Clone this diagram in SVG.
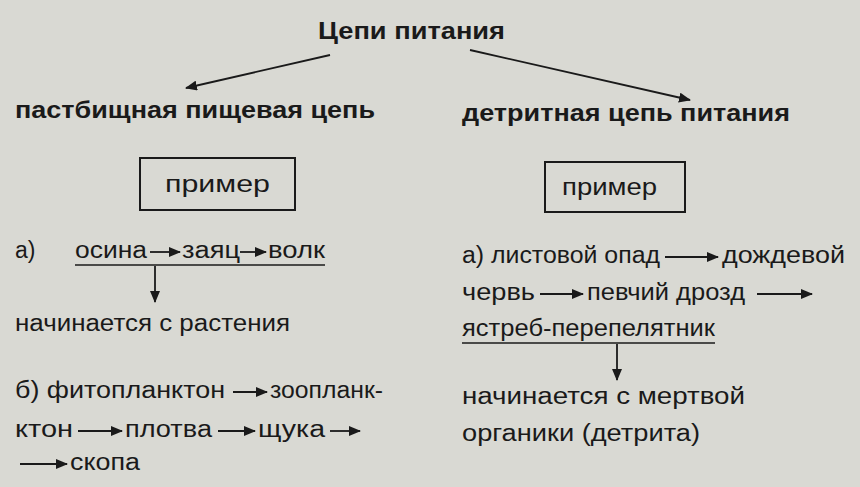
<svg xmlns="http://www.w3.org/2000/svg" width="860" height="487" viewBox="0 0 860 487">
<defs>
<marker id="ah" markerWidth="12" markerHeight="10" refX="11" refY="5" orient="auto" markerUnits="userSpaceOnUse">
<path d="M0,0 L12,5 L0,10 Z" fill="#1a1a1a"/>
</marker>
</defs>
<style>
text{font-family:"Liberation Sans",Arial,sans-serif;fill:#1a1a1a;font-size:23px}
.b{font-weight:bold}
.box{fill:none;stroke:#1a1a1a;stroke-width:2}
.c line{stroke:#1a1a1a;stroke-width:1.8;marker-end:url(#ah)}
.u{stroke:#1a1a1a;stroke-width:1.5}
</style>
<rect width="860" height="487" fill="#d9d9d3"/>
<g id="title"><text class="b" x="318" y="39" textLength="187" lengthAdjust="spacingAndGlyphs">Цепи питания</text></g>
<g id="left-head"><text class="b" x="15" y="118" textLength="360" lengthAdjust="spacingAndGlyphs">пастбищная пищевая цепь</text></g>
<g id="right-head"><text class="b" x="462" y="121" textLength="328" lengthAdjust="spacingAndGlyphs">детритная цепь питания</text></g>
<g id="box-left"><rect class="box" x="140" y="158" width="155" height="52"/><text x="165" y="192" textLength="105" lengthAdjust="spacingAndGlyphs">пример</text></g>
<g id="box-right"><rect class="box" x="545" y="162" width="140" height="50"/><text x="562" y="195" textLength="95" lengthAdjust="spacingAndGlyphs">пример</text></g>
<g id="left-a">
<text x="15" y="258">а)</text>
<text x="75" y="258" textLength="72" lengthAdjust="spacingAndGlyphs">осина</text>
<text x="182" y="258" textLength="58" lengthAdjust="spacingAndGlyphs">заяц</text>
<text x="268" y="258" textLength="57" lengthAdjust="spacingAndGlyphs">волк</text>
<line class="u" x1="75" y1="265" x2="325" y2="265"/>
</g>
<g id="left-start"><text x="15" y="331" textLength="275" lengthAdjust="spacingAndGlyphs">начинается с растения</text></g>
<g id="left-b">
<text x="15" y="398" textLength="210" lengthAdjust="spacingAndGlyphs">б) фитопланктон</text>
<text x="270" y="398" textLength="113" lengthAdjust="spacingAndGlyphs">зоопланк-</text>
<text x="15" y="437" textLength="58" lengthAdjust="spacingAndGlyphs">ктон</text>
<text x="125" y="437" textLength="87" lengthAdjust="spacingAndGlyphs">плотва</text>
<text x="258" y="437" textLength="67" lengthAdjust="spacingAndGlyphs">щука</text>
<text x="70" y="470" textLength="70" lengthAdjust="spacingAndGlyphs">скопа</text>
</g>
<g id="right-a">
<text x="462" y="263" textLength="198" lengthAdjust="spacingAndGlyphs">а) листовой опад</text>
<text x="722" y="263" textLength="123" lengthAdjust="spacingAndGlyphs">дождевой</text>
<text x="462" y="300" textLength="73" lengthAdjust="spacingAndGlyphs">червь</text>
<text x="587" y="300" textLength="158" lengthAdjust="spacingAndGlyphs">певчий дрозд</text>
<text x="462" y="336" textLength="253" lengthAdjust="spacingAndGlyphs">ястреб-перепелятник</text>
<line class="u" x1="462" y1="343" x2="715" y2="343"/>
</g>
<g id="right-start"><text x="462" y="404" textLength="283" lengthAdjust="spacingAndGlyphs">начинается с мертвой</text><text x="462" y="441" textLength="238" lengthAdjust="spacingAndGlyphs">органики (детрита)</text></g>
<g class="c" id="connectors">
<line x1="330" y1="55" x2="186" y2="88"/>
<line x1="470" y1="50" x2="690" y2="100"/>
<line x1="150" y1="252" x2="180" y2="252"/>
<line x1="240" y1="252" x2="266" y2="252"/>
<line x1="155" y1="266" x2="155" y2="302"/>
<line x1="233" y1="392" x2="267" y2="392"/>
<line x1="78" y1="431" x2="122" y2="431"/>
<line x1="218" y1="431" x2="255" y2="431"/>
<line x1="330" y1="431" x2="360" y2="431"/>
<line x1="20" y1="464" x2="67" y2="464"/>
<line x1="665" y1="257" x2="718" y2="257"/>
<line x1="540" y1="294" x2="583" y2="294"/>
<line x1="757" y1="294" x2="812" y2="294"/>
<line x1="617" y1="344" x2="617" y2="380"/>
</g>
</svg>
